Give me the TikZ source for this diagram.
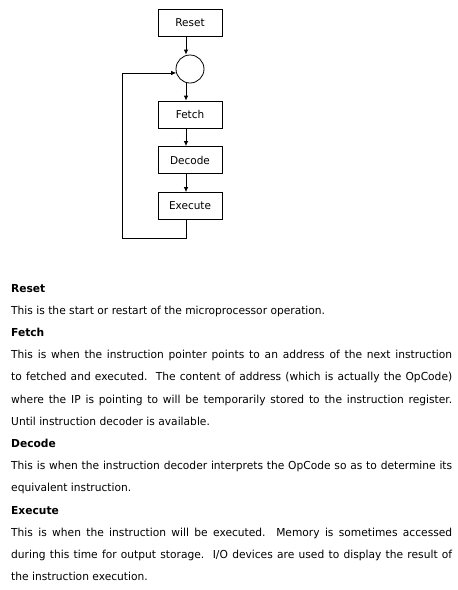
\documentclass[tikz,border=0pt]{standalone}
\usepackage{fontspec}
\setmainfont[FakeStretch=0.97]{DejaVu Sans}
\usetikzlibrary{arrows.meta}
\begin{document}
\begin{tikzpicture}[x=1pt,y=-1pt,
  flowbox/.style={draw, line width=0.8pt, minimum width=64pt, minimum height=27pt, inner sep=0pt, font=\fontsize{10.8}{12}\selectfont},
  junc/.style={draw, line width=0.8pt, circle, minimum size=28pt, inner sep=0pt},
  arr/.style={line width=0.8pt, -{Latex[length=5pt,width=4.5pt]}},
  txt/.style={anchor=base west, inner sep=0pt, font=\fontsize{11}{13}\selectfont},
  head/.style={txt, font=\fontsize{11}{13}\selectfont\bfseries}]
\useasboundingbox (0,0) rectangle (458,590);
\node[flowbox] (reset) at (190,22.5) {Reset};
\node[junc] (circ) at (190,69) {};
\node[flowbox] (fetch) at (190,114.5) {Fetch};
\node[flowbox] (decode) at (190,160) {Decode};
\node[flowbox] (execute) at (190,206) {Execute};
\coordinate (lb) at (122,238);
\draw[arr] ([xshift=-4pt]reset.south) -- ([xshift=-4pt]circ.north);
\draw[arr] ([xshift=-4pt]circ.south) -- ([xshift=-4pt]fetch.north);
\draw[arr] ([xshift=-4pt]fetch.south) -- ([xshift=-4pt]decode.north);
\draw[arr] ([xshift=-4pt]decode.south) -- ([xshift=-4pt]execute.north);
\draw[arr] ([xshift=-4pt]execute.south) |- (lb) |- (circ.196);
% text
\node[head] (h1) at (11,292) {Reset};
\node[txt] (l1) at (11,314.2) {This is the start or restart of the microprocessor operation.};
\node[head] (h2) at (11,336.4) {Fetch};
\node[txt] (l3) at (11,358.6) {\makebox[441pt][s]{This is when the instruction pointer points to an address of the next instruction}};
\node[txt] (l4) at (11,380.8) {\makebox[441pt][s]{to fetched and executed.\ \ The content of address (which is actually the OpCode)}};
\node[txt] (l5) at (11,403) {\makebox[441pt][s]{where the IP is pointing to will be temporarily stored to the instruction register.}};
\node[txt] (l6) at (11,425.2) {Until instruction decoder is available.};
\node[head] (h3) at (11,447.4) {Decode};
\node[txt] (l8) at (11,469.6) {\makebox[441pt][s]{This is when the instruction decoder interprets the OpCode so as to determine its}};
\node[txt] (l9) at (11,491.8) {equivalent instruction.};
\node[head] (h4) at (11,514) {Execute};
\node[txt] (l11) at (11,536.2) {\makebox[441pt][s]{This is when the instruction will be executed.\ \ Memory is sometimes accessed}};
\node[txt] (l12) at (11,558.4) {\makebox[441pt][s]{during this time for output storage.\ \ I/O devices are used to display the result of}};
\node[txt] (l13) at (11,580.6) {the instruction execution.};
\end{tikzpicture}
\end{document}
